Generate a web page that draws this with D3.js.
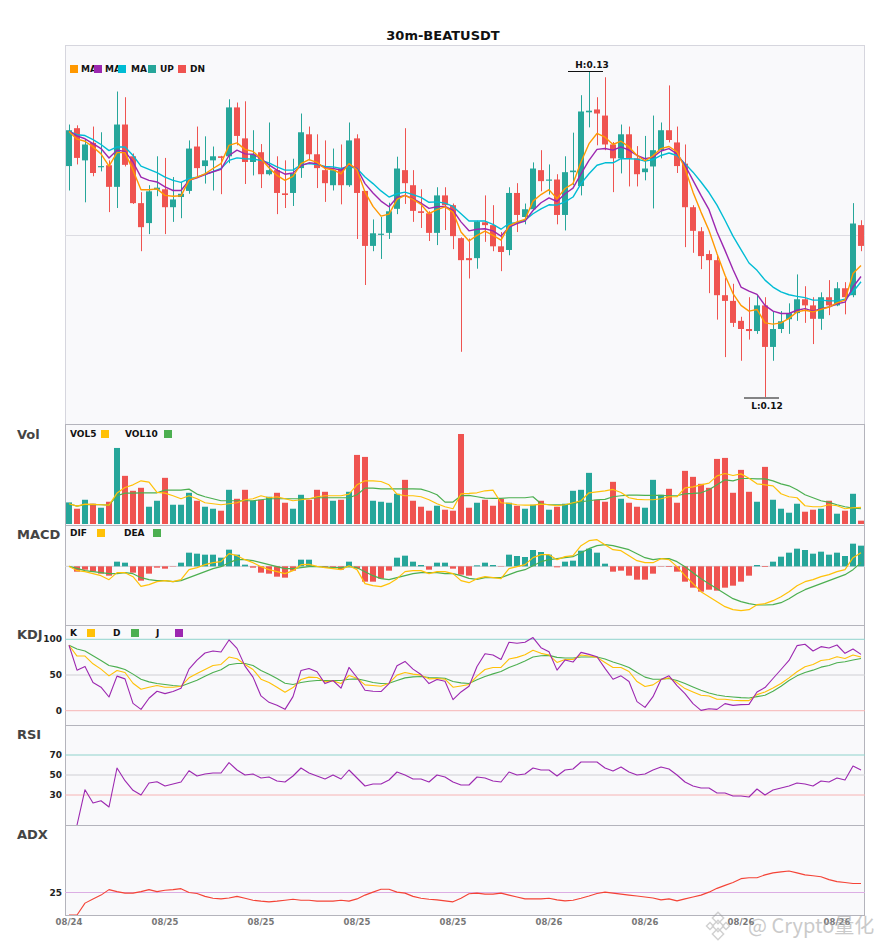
<!DOCTYPE html>
<html><head><meta charset="utf-8">
<script src="https://cdn.jsdelivr.net/npm/d3@7"></script>
<style>body{margin:0;background:#fff;}svg{display:block;font-family:"DejaVu Sans",sans-serif;}</style>
</head><body><svg id="c" width="885" height="950"></svg>
<script>
// ---------- DATA ----------
const title = "30m-BEATUSDT";
const tickIndex = [0,12,24,36,48,60,72,84,96];
const tickLabels = ["08/24","08/25","08/25","08/25","08/25","08/26","08/26","08/26","08/26"];

const open = [0.12670,0.12763,0.12684,0.12727,0.12668,0.12672,0.12619,0.12772,0.12694,0.12579,
 0.12530,0.12612,0.12613,0.12569,0.12594,0.12609,0.12718,0.12670,0.12684,0.12694,
 0.12694,0.12814,0.12738,0.12680,0.12704,0.12650,0.12660,0.12603,0.12604,0.12665,
 0.12748,0.12699,0.12660,0.12623,0.12664,0.12623,0.12738,0.12609,0.12474,0.12503,
 0.12506,0.12565,0.12660,0.12623,0.12559,0.12554,0.12506,0.12598,0.12574,0.12493,
 0.12444,0.12444,0.12532,0.12525,0.12473,0.12464,0.12604,0.12545,0.12564,0.12660,
 0.12634,0.12637,0.12550,0.12655,0.12621,0.12802,0.12809,0.12794,0.12723,0.12689,
 0.12748,0.12689,0.12655,0.12669,0.12709,0.12758,0.12728,0.12676,0.12569,0.12510,
 0.12454,0.12439,0.12353,0.12339,0.12290,0.12270,0.12265,0.12328,0.12226,0.12270,
 0.12294,0.12309,0.12343,0.12328,0.12295,0.12348,0.12328,0.12370,0.12353,0.12525];
const close = [0.12758,0.12690,0.12723,0.12653,0.12670,0.12619,0.12772,0.12673,0.12579,0.12520,
 0.12608,0.12617,0.12569,0.12588,0.12602,0.12713,0.12665,0.12684,0.12694,0.12690,
 0.12814,0.12744,0.12680,0.12699,0.12650,0.12660,0.12604,0.12599,0.12651,0.12753,
 0.12699,0.12665,0.12628,0.12660,0.12623,0.12733,0.12604,0.12474,0.12505,0.12504,
 0.12559,0.12664,0.12628,0.12560,0.12555,0.12506,0.12598,0.12574,0.12498,0.12439,
 0.12439,0.12534,0.12525,0.12473,0.12459,0.12604,0.12550,0.12564,0.12664,0.12633,
 0.12637,0.12550,0.12655,0.12659,0.12804,0.12806,0.12799,0.12723,0.12689,0.12748,
 0.12689,0.12650,0.12664,0.12709,0.12758,0.12734,0.12670,0.12569,0.12511,0.12449,
 0.12439,0.12353,0.12339,0.12285,0.12270,0.12265,0.12328,0.12226,0.12270,0.12289,
 0.12309,0.12343,0.12328,0.12295,0.12348,0.12328,0.12370,0.12348,0.12529,0.12474];
const high = [0.12772,0.12770,0.12736,0.12767,0.12753,0.12684,0.12853,0.12839,0.12701,0.12606,
 0.12623,0.12694,0.12690,0.12643,0.12631,0.12733,0.12767,0.12743,0.12718,0.12695,
 0.12834,0.12826,0.12829,0.12758,0.12724,0.12777,0.12694,0.12684,0.12688,0.12799,
 0.12767,0.12748,0.12733,0.12713,0.12723,0.12777,0.12748,0.12609,0.12539,0.12545,
 0.12580,0.12693,0.12763,0.12660,0.12613,0.12559,0.12618,0.12618,0.12578,0.12495,
 0.12492,0.12536,0.12598,0.12574,0.12508,0.12618,0.12628,0.12578,0.12679,0.12709,
 0.12674,0.12650,0.12694,0.12752,0.12844,0.12901,0.12839,0.12888,0.12729,0.12772,
 0.12767,0.12719,0.12744,0.12794,0.12777,0.12868,0.12767,0.12723,0.12574,0.12520,
 0.12463,0.12451,0.12395,0.12381,0.12300,0.12348,0.12353,0.12348,0.12314,0.12314,
 0.12333,0.12404,0.12375,0.12348,0.12360,0.12390,0.12385,0.12385,0.12579,0.12537];
const low = [0.12610,0.12674,0.12581,0.12645,0.12657,0.12557,0.12567,0.12669,0.12577,0.12461,
 0.12503,0.12596,0.12503,0.12533,0.12542,0.12602,0.12643,0.12627,0.12610,0.12601,
 0.12677,0.12721,0.12626,0.12647,0.12616,0.12647,0.12552,0.12567,0.12572,0.12641,
 0.12684,0.12616,0.12582,0.12610,0.12576,0.12619,0.12491,0.12378,0.12461,0.12442,
 0.12491,0.12552,0.12577,0.12533,0.12518,0.12486,0.12476,0.12513,0.12466,0.12214,
 0.12394,0.12418,0.12484,0.12461,0.12412,0.12451,0.12508,0.12527,0.12561,0.12608,
 0.12600,0.12527,0.12512,0.12623,0.12598,0.12765,0.12721,0.12709,0.12606,0.12652,
 0.12620,0.12620,0.12635,0.12566,0.12689,0.12728,0.12653,0.12471,0.12457,0.12417,
 0.12358,0.12293,0.12201,0.12275,0.12192,0.12244,0.12258,0.12103,0.12192,0.12260,
 0.12258,0.12290,0.12285,0.12233,0.12268,0.12304,0.12326,0.12306,0.12348,0.12461];

const ma1 = [0.12755,0.12736,0.12731,0.12717,0.12700,0.12670,0.12703,0.12703,0.12660,0.12612,
 0.12612,0.12614,0.12598,0.12596,0.12597,0.12635,0.12643,0.12651,0.12664,0.12676,
 0.12721,0.12727,0.12711,0.12706,0.12688,0.12666,0.12647,0.12635,0.12645,0.12676,
 0.12686,0.12679,0.12664,0.12661,0.12651,0.12676,0.12661,0.12606,0.12571,0.12547,
 0.12552,0.12588,0.12598,0.12588,0.12576,0.12553,0.12563,0.12570,0.12557,0.12508,
 0.12486,0.12500,0.12510,0.12500,0.12488,0.12523,0.12533,0.12539,0.12584,0.12600,
 0.12612,0.12590,0.12615,0.12627,0.12680,0.12725,0.12750,0.12741,0.12723,0.12731,
 0.12717,0.12696,0.12683,0.12695,0.12713,0.12718,0.12705,0.12664,0.12606,0.12557,
 0.12512,0.12455,0.12402,0.12357,0.12328,0.12314,0.12318,0.12285,0.12282,0.12285,
 0.12296,0.12312,0.12316,0.12312,0.12318,0.12324,0.12334,0.12341,0.12406,0.12426];
const ma2 = [0.12755,0.12744,0.12737,0.12725,0.12713,0.12690,0.12709,0.12706,0.12680,0.12643,
 0.12635,0.12631,0.12619,0.12610,0.12610,0.12635,0.12641,0.12649,0.12656,0.12662,
 0.12696,0.12709,0.12700,0.12699,0.12688,0.12673,0.12660,0.12650,0.12653,0.12671,
 0.12678,0.12676,0.12666,0.12664,0.12660,0.12673,0.12664,0.12627,0.12604,0.12584,
 0.12570,0.12593,0.12598,0.12590,0.12579,0.12566,0.12570,0.12571,0.12561,0.12533,
 0.12511,0.12515,0.12516,0.12511,0.12498,0.12520,0.12529,0.12535,0.12561,0.12580,
 0.12592,0.12583,0.12602,0.12616,0.12651,0.12684,0.12711,0.12713,0.12709,0.12717,
 0.12709,0.12696,0.12688,0.12692,0.12707,0.12713,0.12700,0.12672,0.12635,0.12598,
 0.12563,0.12508,0.12463,0.12416,0.12373,0.12363,0.12355,0.12328,0.12314,0.12308,
 0.12308,0.12316,0.12320,0.12314,0.12320,0.12324,0.12332,0.12336,0.12373,0.12399];
const ma3 = [0.12755,0.12747,0.12745,0.12735,0.12723,0.12708,0.12717,0.12717,0.12696,0.12670,
 0.12662,0.12654,0.12643,0.12635,0.12630,0.12639,0.12643,0.12650,0.12656,0.12664,
 0.12684,0.12690,0.12688,0.12687,0.12684,0.12678,0.12668,0.12660,0.12660,0.12673,
 0.12676,0.12674,0.12669,0.12668,0.12664,0.12669,0.12664,0.12643,0.12627,0.12609,
 0.12594,0.12602,0.12606,0.12600,0.12593,0.12581,0.12582,0.12579,0.12571,0.12553,
 0.12535,0.12535,0.12535,0.12527,0.12515,0.12529,0.12531,0.12537,0.12553,0.12565,
 0.12575,0.12574,0.12582,0.12594,0.12627,0.12651,0.12672,0.12678,0.12678,0.12688,
 0.12688,0.12687,0.12682,0.12686,0.12696,0.12702,0.12696,0.12676,0.12655,0.12631,
 0.12605,0.12574,0.12537,0.12498,0.12465,0.12432,0.12414,0.12390,0.12373,0.12361,
 0.12354,0.12350,0.12347,0.12341,0.12341,0.12339,0.12339,0.12343,0.12361,0.12386];

const volume = [65,46,73,61,49,67,229,145,100,109,
 52,70,139,58,58,94,70,52,46,40,
 103,76,103,70,73,82,94,64,46,88,
 73,103,97,70,73,97,208,202,70,67,
 64,91,133,70,52,40,55,43,40,271,
 49,64,73,55,76,64,55,46,58,70,
 43,52,61,100,103,154,73,67,127,76,
 64,52,49,133,88,106,64,160,142,121,
 109,196,199,94,163,97,67,172,73,46,
 34,61,37,43,46,70,31,40,91,10];
const vol5 = [61,54,60,59,58,57,93,110,118,130,
 126,95,93,85,76,85,76,64,61,58,
 61,64,73,76,85,79,82,76,70,73,
 76,82,85,85,85,90,118,130,130,128,
 118,90,85,85,82,73,61,52,46,91,
 92,94,100,102,64,62,58,57,57,60,
 58,55,58,64,70,94,97,100,104,95,
 79,74,73,73,76,82,82,109,112,118,
 123,145,152,146,151,138,121,118,115,91,
 82,79,55,52,52,58,55,46,49,50];
const vol10 = [61,54,58,59,58,57,85,93,93,94,
 94,94,102,102,102,105,90,82,76,70,
 70,70,70,70,73,76,76,76,76,76,
 76,79,79,79,79,79,88,108,108,106,
 106,106,106,106,105,98,88,66,66,85,
 86,82,78,77,77,79,79,79,82,61,
 58,58,58,61,67,70,73,74,82,85,
 87,87,86,86,86,85,85,91,92,94,
 103,118,133,130,137,137,136,136,130,121,
 115,103,88,79,70,65,58,52,48,46];

// MACD values in units of 1e-6
const macdHist = [0,-16,-10,-16,-22,-28,14,11,-19,-43,
 -22,-4,-7,-1,11,41,38,35,35,26,
 50,35,5,-4,-19,-22,-31,-34,-13,20,
 20,-2,-4,-4,-10,14,-7,-46,-46,-37,
 -13,26,32,14,4,-10,11,11,-7,-25,
 -28,3,11,4,-1,35,31,28,49,43,
 35,-3,14,17,47,53,41,8,-16,-13,
 -28,-40,-40,-22,-1,-2,-16,-46,-64,-76,
 -70,-73,-64,-58,-46,-28,4,-2,14,29,
 41,53,49,38,44,35,41,31,68,62];
const dif = [0,-13,-16,-22,-28,-40,-19,-19,-31,-60,
 -55,-46,-43,-46,-40,-10,-4,5,11,14,
 38,32,20,11,-1,-10,-16,-22,-13,5,
 6,0,-4,-7,-10,2,-10,-52,-58,-61,
 -52,-37,-16,-13,-13,-22,-16,-16,-22,-43,
 -49,-37,-31,-34,-37,-7,-1,5,26,35,
 35,20,29,32,62,77,80,65,50,47,
 32,17,11,11,23,20,-1,-28,-52,-76,
 -91,-106,-121,-130,-133,-130,-115,-112,-103,-91,
 -76,-58,-46,-40,-31,-25,-16,-10,26,41];
const dea = [0,-6,-13,-16,-19,-22,-22,-19,-22,-34,
 -40,-43,-43,-46,-43,-34,-25,-16,-7,-1,
 11,20,20,17,11,5,-1,-7,-7,-4,
 -1,-1,-2,-4,-4,-1,-4,-16,-28,-37,
 -40,-34,-28,-22,-19,-19,-19,-22,-22,-28,
 -36,-39,-34,-34,-34,-25,-16,-10,2,14,
 20,23,26,29,41,53,62,65,62,56,
 50,38,26,20,23,23,14,-1,-19,-37,
 -52,-67,-82,-97,-106,-112,-116,-116,-115,-109,
 -97,-82,-70,-61,-52,-43,-34,-25,-10,11];

const kVal = [91.6,76.5,76.5,65.7,58.2,48.8,56.3,53.5,38.5,30.0,
 32.9,35.2,32.9,32.9,34.3,46.0,52.1,57.7,63.4,64.8,
 75.1,72.8,64.8,57.7,44.1,39.4,32.9,25.8,32.4,43.7,
 47.0,46.5,40.4,41.8,38.0,49.3,45.5,36.2,35.2,34.3,
 38.5,49.8,53.5,51.2,49.8,44.6,45.1,44.1,32.9,34.7,
 36.6,48.4,57.7,60.6,60.6,72.3,74.7,78.4,84.5,80.3,
 77.9,67.6,71.8,71.8,77.9,76.5,74.7,67.6,60.6,60.6,
 54.9,40.8,33.8,36.2,43.7,46.0,39.4,31.0,26.3,21.6,
 20.7,16.0,16.0,14.6,14.1,14.1,22.5,26.3,31.9,38.0,
 46.0,54.5,61.5,64.8,70.4,71.8,75.6,73.2,77.9,75.1];
const dVal = [91.6,86.4,83.6,77.0,70.4,63.4,61.0,57.7,51.2,44.1,
 40.4,38.0,36.6,35.2,34.3,38.5,42.7,48.4,53.5,57.3,
 64.3,66.2,66.2,63.4,56.3,51.2,45.1,38.5,36.6,39.4,
 41.3,42.3,42.3,42.3,42.3,44.1,44.6,42.3,39.4,38.0,
 38.5,42.3,46.0,47.4,47.9,46.5,46.0,45.5,40.8,39.0,
 38.0,43.2,47.9,51.6,54.9,60.6,64.8,69.5,75.1,77.0,
 77.5,74.7,73.7,73.7,75.1,75.1,75.1,72.3,68.1,64.8,
 60.6,53.5,47.0,44.1,44.1,45.1,42.3,38.0,33.3,28.6,
 24.9,22.1,20.2,19.2,18.3,17.8,19.7,21.6,27.2,34.3,
 42.3,48.8,53.5,56.8,61.0,63.4,67.1,68.5,70.9,73.2];
const jVal = [91.6,56.8,62.0,39.4,32.9,19.2,48.4,44.6,10.3,1.9,
 17.4,27.2,23.9,26.8,31.5,58.2,70.9,80.8,83.6,82.2,
 99.1,87.3,62.4,47.0,20.7,11.7,7.5,1.9,19.7,56.3,
 59.2,54.5,38.0,42.3,31.5,60.6,46.5,28.6,27.2,26.8,
 38.0,62.9,69.0,58.2,50.7,38.0,43.7,41.3,15.5,26.3,
 34.3,62.0,79.8,77.9,71.8,95.8,94.4,95.8,102.4,88.3,
 82.6,56.8,70.9,68.1,81.7,78.9,75.6,59.2,44.1,48.8,
 40.8,12.7,4.7,19.7,43.7,48.8,35.2,23.9,9.9,0.5,
 2.8,1.9,9.9,7.5,8.5,8.9,26.3,32.4,45.1,57.7,
 70.4,91.1,93.0,83.6,89.7,87.8,92.0,80.3,86.4,78.9];
const rsi = [null,0,35.3,22,24.3,18,57,44.3,34.7,30,
 42,43.3,39,41,43,54.3,49,51,52,52,
 62.3,55,50,51,47,48,44,43,49,57,
 52,49,46,50,46,55,47,39,41,41,
 45,53,50,46,46,43,50,48,43,40,
 40,48,47,44,43,53,50,51,57,55,
 55,49,55,56,63,63,63,57,54,58,
 53,50,51,55,58,56,50,43,39,37,
 37,32,32,29,29,28,36,30,35,37,
 39,42,41,39,44,43,47,45,59,55];
const adx = [0,0,13.2,17.9,22.1,28.2,26,24.3,24.3,26,
 28.2,26,27.5,28.2,29.3,25,23.9,20.7,18.6,17.9,
 18.9,20.7,18.6,16.4,15.4,14.6,15.4,16.4,17.5,16.4,
 16.4,15.4,15.4,15.4,16.4,15.4,17.9,22.1,25.4,28.6,
 28.6,25.4,24.3,20.7,18.6,17.5,16.8,15.7,14.6,18.6,
 23.6,24.3,23.2,23.2,24.3,22.1,20,17.9,17.9,17.9,
 18.6,16.8,15.7,16.4,18.6,21.1,23.9,25.4,24.3,23.2,
 22.1,21.1,20,18.9,16.8,17.9,15.7,17.9,20,22.1,
 25.4,29.6,32.9,36.1,40.4,41.4,41.4,44.6,46.8,47.9,
 48.9,46.8,44.6,43.6,42.5,39.3,37.1,36.1,35,35];

// ---------- LAYOUT ----------
const svg = d3.select('#c');
const L = 65, R = 865;
const P = {main:[45,424], vol:[425,524], macd:[525,625], kdj:[625,725], rsi:[725,825], adx:[825,915]};
const UP = '#26A69A', DN = '#EF5350';
const C = {ma1:'#FF9800', ma2:'#9C27B0', ma3:'#00BCD4', y:'#FFC107', g:'#4CAF50', p:'#9C27B0', adx:'#F44336'};
const n = open.length;
const x = d3.scaleBand().domain(d3.range(n)).range([L,R]).paddingInner(0.3).paddingOuter(0.15);
const bw = 6;
const cx = i => x(i) + x.bandwidth()/2;
const bx = i => Math.round(cx(i)) - 3;

svg.append('rect').attr('width',885).attr('height',950).attr('fill','#fff');
svg.append('text').attr('x',443).attr('y',40).attr('text-anchor','middle')
  .attr('font-size',13).attr('font-weight','bold').attr('fill','#111').text(title);

// plot backgrounds
svg.append('rect').attr('x',L).attr('y',P.main[0]).attr('width',R-L).attr('height',P.adx[1]-P.main[0])
  .attr('fill','#f9f9fb');
svg.append('rect').attr('x',L+0.5).attr('y',P.main[0]+0.5).attr('width',R-L-1).attr('height',P.main[1]-P.main[0])
  .attr('fill','none').attr('stroke','#d6d6de');
[[P.vol[0]-1,P.macd[0]],[P.macd[0],P.macd[1]],[P.kdj[0],P.kdj[1]],[P.rsi[0],P.rsi[1]],[P.adx[0],P.adx[1]]]
.forEach(([t,b])=>{
  svg.append('rect').attr('x',L+0.5).attr('y',t+0.5).attr('width',R-L-1).attr('height',b-t)
   .attr('fill','none').attr('stroke','#b4b4bc');
});

const defs = svg.append('defs');
Object.entries(P).forEach(([k,[t,b]])=>{
  defs.append('clipPath').attr('id','clip-'+k).append('rect').attr('x',L).attr('y',t).attr('width',R-L).attr('height',b-t);
});
const layer = k => svg.append('g').attr('clip-path',`url(#clip-${k})`);

function hline(g, yv, color){
  g.append('line').attr('x1',L).attr('x2',R).attr('y1',yv).attr('y2',yv).attr('stroke',color).attr('stroke-width',1);
}
function drawLine(g, data, yS, color, w){
  const ln = d3.line().defined(d=>d!=null).x((d,i)=>cx(i)).y(d=>yS(d));
  g.append('path').datum(data).attr('d',ln).attr('fill','none').attr('stroke',color)
    .attr('stroke-width',w||1.3).attr('stroke-linejoin','round');
}
function legend(items, yc){
  const g = svg.append('g').attr('font-size',9).attr('font-weight','bold').attr('fill','#111');
  items.forEach(it=>{
    g.append('text').attr('x',it.tx).attr('y',yc).attr('dy','0.35em').text(it.t);
  });
  items.forEach(it=>{
    g.append('rect').attr('x',it.sx).attr('y',yc-4).attr('width',8).attr('height',8).attr('fill',it.c);
  });
}
function panelLabel(t, top){
  svg.append('text').attr('x',17).attr('y',top+14).attr('font-size',13).attr('font-weight','bold')
    .attr('fill','#444').text(t);
}
function yTicks(vals, yS){
  vals.forEach(v=>{
    svg.append('text').attr('x',62).attr('y',yS(v)).attr('dy','0.35em').attr('text-anchor','end')
      .attr('font-size',9).attr('font-weight','bold').attr('fill','#222').text(v);
  });
}

// ---------- MAIN (candles) ----------
const lo = d3.min(low), hi = d3.max(high), pad = (hi-lo)*0.083;
const y = d3.scaleLinear().domain([lo-pad, hi+pad]).range([P.main[1], P.main[0]]);
const gm = layer('main');
y.ticks(2).forEach(t=>hline(gm, Math.round(y(t))+0.5, '#dcdce2'));
const candle = gm.selectAll('g.c').data(d3.range(n)).join('g');
candle.append('line').attr('x1',i=>Math.round(cx(i))+0.5).attr('x2',i=>Math.round(cx(i))+0.5)
  .attr('y1',i=>y(high[i])).attr('y2',i=>y(low[i]))
  .attr('stroke',i=>close[i]>=open[i]?UP:DN).attr('stroke-width',1);
candle.append('rect').attr('x',i=>bx(i)).attr('width',bw)
  .attr('y',i=>y(Math.max(open[i],close[i])))
  .attr('height',i=>Math.max(1.2, Math.abs(y(open[i])-y(close[i]))))
  .attr('fill',i=>close[i]>=open[i]?UP:DN);
drawLine(gm, ma3, y, C.ma3, 1.4);
drawLine(gm, ma2, y, C.ma2, 1.4);
drawLine(gm, ma1, y, C.ma1, 1.4);

// high / low markers
const iH = d3.maxIndex(high), iL = d3.minIndex(low);
svg.append('line').attr('x1',cx(iH)-21).attr('x2',cx(iH)+14).attr('y1',y(high[iH])-0.5).attr('y2',y(high[iH])-0.5)
  .attr('stroke','#111').attr('stroke-width',1.2);
svg.append('text').attr('x',cx(iH)+3).attr('y',y(high[iH])-4).attr('text-anchor','middle')
  .attr('font-size',9).attr('font-weight','bold').attr('fill','#111').text('H:'+high[iH].toFixed(2));
svg.append('line').attr('x1',cx(iL)-21).attr('x2',cx(iL)+14).attr('y1',y(low[iL])+1).attr('y2',y(low[iL])+1)
  .attr('stroke','#111').attr('stroke-width',1.2);
svg.append('text').attr('x',cx(iL)+2).attr('y',y(low[iL])+12).attr('text-anchor','middle')
  .attr('font-size',9).attr('font-weight','bold').attr('fill','#111').text('L:'+low[iL].toFixed(2));

legend([{t:'MA',tx:81,sx:70,c:C.ma1},{t:'MA',tx:105,sx:94,c:C.ma2},{t:'MA',tx:131,sx:118,c:C.ma3},
        {t:'UP',tx:160,sx:148,c:UP},{t:'DN',tx:190,sx:178,c:DN}], 69);

// ---------- VOLUME ----------
const yv = d3.scaleLinear().domain([0, d3.max(volume)*1.1]).range([P.vol[1], P.vol[0]]);
const gv = layer('vol');
gv.selectAll('rect.v').data(volume).join('rect').attr('x',(d,i)=>bx(i)).attr('width',bw)
  .attr('y',d=>yv(d)).attr('height',d=>yv(0)-yv(d)).attr('fill',(d,i)=>close[i]>=open[i]?UP:DN);
drawLine(gv, vol10, yv, C.g, 1.2);
drawLine(gv, vol5, yv, C.y, 1.2);
panelLabel('Vol', P.vol[0]);
legend([{t:'VOL5',tx:70,sx:101,c:C.y},{t:'VOL10',tx:125,sx:164,c:C.g}], 434);

// ---------- MACD ----------
const ym = d3.scaleLinear().domain([-176, 124]).range([P.macd[1], P.macd[0]]);
const gmc = layer('macd');
hline(gmc, ym(0), '#d0d0d6');
gmc.selectAll('rect.m').data(macdHist).join('rect').attr('x',(d,i)=>bx(i)).attr('width',bw)
  .attr('y',d=>ym(Math.max(0,d))).attr('height',d=>Math.abs(ym(d)-ym(0)))
  .attr('fill',d=>d>=0?UP:DN);
drawLine(gmc, dea, ym, C.g, 1.2);
drawLine(gmc, dif, ym, C.y, 1.2);
panelLabel('MACD', P.macd[0]);
legend([{t:'DIF',tx:70,sx:97,c:C.y},{t:'DEA',tx:124,sx:153,c:C.g}], 533);

// ---------- KDJ ----------
const yk = d3.scaleLinear().domain([-20, 120]).range([P.kdj[1], P.kdj[0]]);
const gk = layer('kdj');
hline(gk, yk(100), '#8fd3cc'); hline(gk, yk(50), '#cfcfd4'); hline(gk, yk(0), '#f7b4b4');
drawLine(gk, dVal, yk, C.g, 1.1);
drawLine(gk, kVal, yk, C.y, 1.1);
drawLine(gk, jVal, yk, C.p, 1.1);
panelLabel('KDJ', P.kdj[0]);
yTicks([100,50,0], yk);
legend([{t:'K',tx:70,sx:87,c:C.y},{t:'D',tx:113,sx:131,c:C.g},{t:'J',tx:156,sx:175,c:C.p}], 633);

// ---------- RSI ----------
const yr = d3.scaleLinear().domain([0, 100]).range([P.rsi[1], P.rsi[0]]);
const gr = layer('rsi');
hline(gr, yr(70), '#8fd3cc'); hline(gr, yr(50), '#cfcfd4'); hline(gr, yr(30), '#f7b4b4');
drawLine(gr, rsi, yr, C.p, 1.1);
panelLabel('RSI', P.rsi[0]);
yTicks([70,50,30], yr);

// ---------- ADX ----------
const ya = d3.scaleLinear().domain([0, 100]).range([P.adx[1], P.adx[0]]);
const ga = layer('adx');
hline(ga, ya(25), '#dcaee4');
drawLine(ga, adx, ya, C.adx, 1.1);
panelLabel('ADX', P.adx[0]);
yTicks([25], ya);

// ---------- X AXIS ----------
tickIndex.forEach((ti,k)=>{
  svg.append('text').attr('x',cx(ti)).attr('y',925).attr('text-anchor','middle')
    .attr('font-size',8.5).attr('font-weight','bold').attr('fill','#777').text(tickLabels[k]);
});

// ---------- WATERMARK ----------
const wm = svg.append('g').attr('opacity',0.45).attr('fill','none').attr('stroke','#9a9a9a').attr('stroke-width',1.4);
[[0,0,4],[-8,0,2.5],[8,0,2.5],[0,-8,4],[0,8,4]].forEach(([dx,dy,s])=>{
  wm.append('rect').attr('x',-s).attr('y',-s).attr('width',2*s).attr('height',2*s)
    .attr('transform',`translate(${718+dx},${926+dy}) rotate(45)`);
});
svg.append('text').attr('x',748).attr('y',933).attr('font-size',20)
  .attr('font-family','"Noto Sans CJK SC","DejaVu Sans",sans-serif')
  .attr('fill','#a8a8a8').attr('opacity',0.6).text('@ Crypto量化');
</script>
</body></html>
